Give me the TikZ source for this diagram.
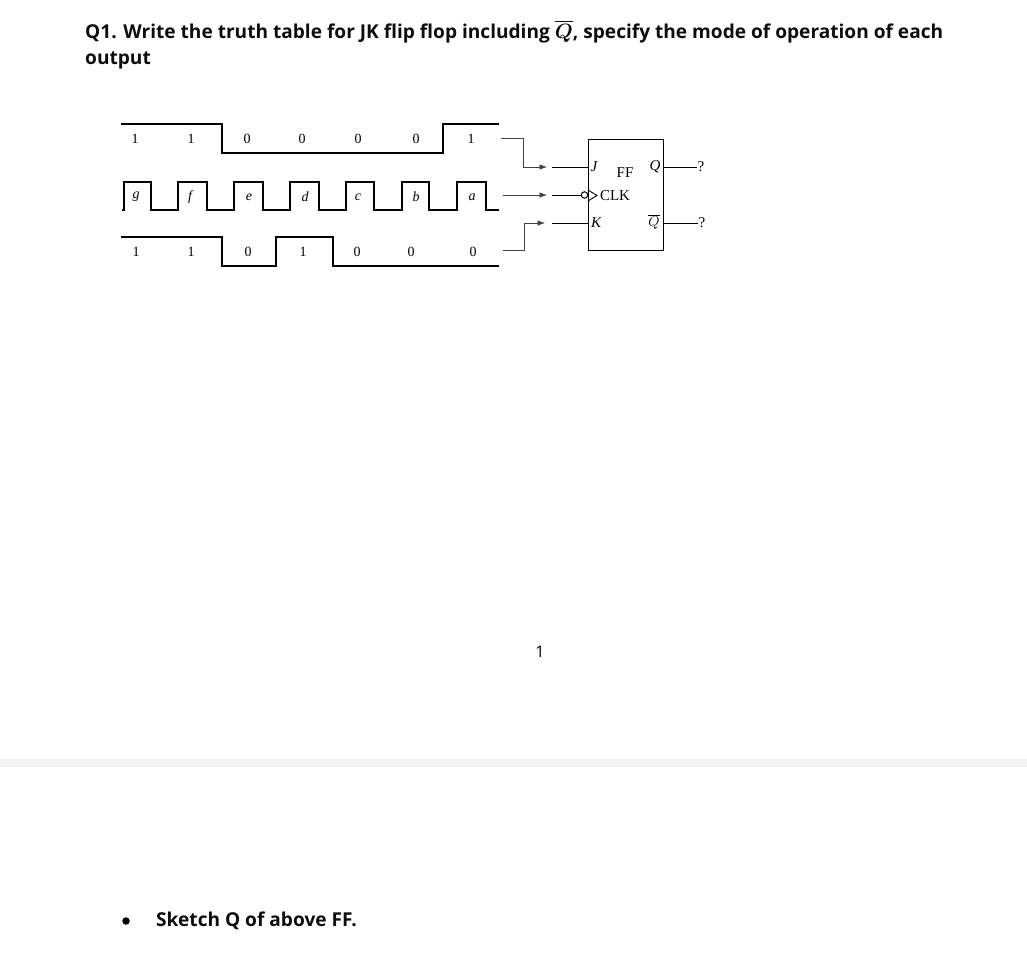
\documentclass[tikz,border=0pt]{standalone}
\usepackage{fontspec}
\usepackage{amsmath}
\usepackage{tikz}
\usetikzlibrary{arrows.meta}
\usetikzlibrary{calc}
\newfontfamily\qfont{Open Sans}
\newfontfamily\ffont{Liberation Serif}
\tikzset{
  qtext/.style={anchor=west, inner sep=0pt, font=\qfont\bfseries\fontsize{19.1}{23}\selectfont, text=black!95},
  wave/.style={line width=1.4pt, line join=miter},
  thin line/.style={line width=0.7pt, black!75},
  pin/.style={line width=0.9pt},
  bit/.style={inner sep=0pt, font=\ffont\fontsize{14}{16}\selectfont},
  ffpin/.style={inner sep=0pt, font=\ffont\fontsize{15}{17}\selectfont}
}
\begin{document}
\begin{tikzpicture}[x=1pt,y=-1pt]
\useasboundingbox (0,0) rectangle (1027,964);

\path (85,32) node[qtext] (t1) {Q1. Write the truth table for JK flip flop including $\boldsymbol{\overline{Q}}$, specify the mode of operation of each};
\path (85,60) node[qtext] (t2) {output};

% waveforms
\draw[wave] (121,124) -- (222,124) -- (222,153) -- (443,153) -- (443,124) -- (499,124);
\draw[wave] (122,210) -- (124,210) -- (124,182) -- (151,182) -- (151,210)
  -- (178,210) -- (178,182) -- (207,182) -- (207,210)
  -- (234,210) -- (234,182) -- (263,182) -- (263,210)
  -- (290,210) -- (290,182) -- (319,182) -- (319,210)
  -- (346,210) -- (346,182) -- (374,182) -- (374,210)
  -- (402,210) -- (402,182) -- (429,182) -- (429,210)
  -- (457,210) -- (457,182) -- (486,182) -- (486,210) -- (499,210);
\draw[wave] (121,237) -- (222,237) -- (222,266) -- (276,266) -- (276,237)
  -- (333,237) -- (333,266) -- (499,266);

\foreach \x/\b in {135/1,191/1,247/0,302/0,358/0,416/0,471/1}
   \path (\x,139) node[bit] {\b};
\foreach \x/\b in {136/g,190/f,249/e,305/d,358/c,416/b,472/a}
   \path (\x,197) node[bit] {\itshape\b};
\foreach \x/\b in {136/1,191/1,248/0,303/1,357/0,411/0,473/0}
   \path (\x,252) node[bit] {\b};

% flip flop
\path (625.5,194.5) node[draw, line width=1pt, minimum width=75pt, minimum height=111pt, inner sep=0pt] (ff) {};
\path (625,173) node[ffpin] (ffname) {FF};
\path (615,196) node[ffpin] (clk) {CLK};
\path (594,167) node[ffpin] (pj) {\itshape J};
\path (596,223) node[ffpin] (pk) {\itshape K};
\path (655,167) node[ffpin] (pq) {\itshape Q};
\path (654,222) node[ffpin] (pqb) {$\overline{Q}$};
\path (701,167) node[ffpin] (qa) {?};
\path (702,223) node[ffpin] (qba) {?};

\coordinate (js) at (501,138);
\coordinate (jt) at (547,167);
\coordinate (jb) at (552,167);
\coordinate (je) at (588,167);
\coordinate (cs) at (503,195);
\coordinate (ct) at (547,195);
\coordinate (cb) at (552,195);
\coordinate (ks) at (503,250);
\coordinate (kt) at (545,223);
\coordinate (kb) at (552,223);
\coordinate (ke) at (588,223);
\coordinate (qe) at (663,167);
\coordinate (qbe) at (663,223);

\draw[thin line, -{Latex[length=2.6mm,width=1.9mm]}] (js) -| (523,167) -- (jt);
\draw[thin line, -{Latex[length=2.6mm,width=1.9mm]}] (cs) -- (ct);
\draw[thin line, -{Latex[length=2.6mm,width=1.9mm]}] (ks) -| (524,223) -- (kt);

\draw[pin] (jb) -- (je);
\draw[pin] (kb) -- (ke);
\path (584.5,195) node[draw, circle, line width=1pt, minimum size=6.5pt, inner sep=0pt] (bub) {};
\draw[pin] (cb) -- (bub);
\draw[pin] (588,190) -- (597,195.5) -- (588,201);
\draw[pin] (qe) -- (qa);
\draw[pin] (qbe) -- (qba);

% footer
\path (540,652) node[anchor=center, inner sep=0pt, font=\qfont\fontsize{16}{18}\selectfont] (pg) {1};
\fill[black!5] (0,759) rectangle (1027,767);
\path (126,921) node[circle, fill=black, minimum size=7.5pt, inner sep=0pt] (dot) {};
\path (156,921) node[qtext] (t3) {Sketch Q of above FF.};

\end{tikzpicture}
\end{document}
